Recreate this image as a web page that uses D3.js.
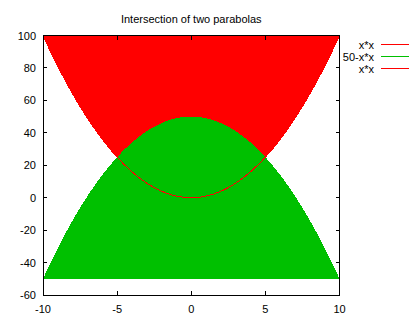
<!DOCTYPE html>
<html>
<head>
<meta charset="utf-8">
<script src="https://cdn.jsdelivr.net/npm/d3@7"></script>
<style>
  body { margin: 0; background: #fff; }
  text { font-family: "Liberation Sans", Arial, sans-serif; font-size: 11px; fill: #000; }
  path, line, rect { shape-rendering: crispEdges; }
</style>
</head>
<body>
<svg></svg>
<script>
const width = 420;
const height = 320;

// sample points
const xs = [-10, -9.5, -9, -8.5, -8, -7.5, -7, -6.5, -6, -5.5, -5, -4.5, -4, -3.5, -3, -2.5, -2, -1.5, -1, -0.5,
  0, 0.5, 1, 1.5, 2, 2.5, 3, 3.5, 4, 4.5, 5, 5.5, 6, 6.5, 7, 7.5, 8, 8.5, 9, 9.5, 10];
const squares = [100, 90.25, 81, 72.25, 64, 56.25, 49, 42.25, 36, 30.25, 25, 20.25, 16, 12.25, 9, 6.25, 4, 2.25, 1, 0.25,
  0, 0.25, 1, 2.25, 4, 6.25, 9, 12.25, 16, 20.25, 25, 30.25, 36, 42.25, 49, 56.25, 64, 72.25, 81, 90.25, 100];
const invSquares = [-50, -40.25, -31, -22.25, -14, -6.25, 1, 7.75, 14, 19.75, 25, 29.75, 34, 37.75, 41, 43.75, 46, 47.75, 49, 49.75,
  50, 49.75, 49, 47.75, 46, 43.75, 41, 37.75, 34, 29.75, 25, 19.75, 14, 7.75, 1, -6.25, -14, -22.25, -31, -40.25, -50];

const xTicks = [-10, -5, 0, 5, 10];
const yTicks = [-60, -40, -20, 0, 20, 40, 60, 80, 100];
const legendLabels = ["x*x", "50-x*x", "x*x"];
const legendColors = ["#ff0000", "#00c000", "#ff0000"];

const svg = d3.select("svg").attr("width", width).attr("height", height);

const plotLeft = 43, plotRight = 339.5, plotTop = 35.5, plotBottom = 295;

const x = d3.scaleLinear().domain([-10, 10]).range([plotLeft, plotRight]);
const y = d3.scaleLinear().domain([-60, 100]).range([plotBottom, plotTop]);

const sq = xs.map((v, i) => [v, squares[i]]);
const inv = xs.map((v, i) => [v, invSquares[i]]);

// filledcurves closed: curve joined back to its first point
const line = d3.line().x(d => x(d[0])).y(d => y(d[1])).curve(d3.curveMonotoneX);

svg.append("path")
    .attr("d", line(sq) + "Z")
    .attr("fill", "#ff0000");

svg.append("path")
    .attr("d", line(inv) + "Z")
    .attr("fill", "#00c000");

svg.append("path")
    .attr("d", line(sq))
    .attr("fill", "none")
    .attr("stroke", "#ff0000")
    .attr("stroke-width", 1);

// frame
svg.append("rect")
    .attr("x", plotLeft).attr("y", plotTop)
    .attr("width", plotRight - plotLeft).attr("height", plotBottom - plotTop)
    .attr("fill", "none").attr("stroke", "#000").attr("stroke-width", 1);

// ticks on all four sides, pointing inward
const tickLen = 4;
const axisG = svg.append("g").attr("stroke", "#000").attr("stroke-width", 1);
xTicks.forEach(t => {
  axisG.append("line").attr("x1", x(t)).attr("x2", x(t)).attr("y1", plotBottom).attr("y2", plotBottom - tickLen);
  axisG.append("line").attr("x1", x(t)).attr("x2", x(t)).attr("y1", plotTop).attr("y2", plotTop + tickLen);
});
yTicks.forEach(t => {
  axisG.append("line").attr("x1", plotLeft).attr("x2", plotLeft + tickLen).attr("y1", y(t)).attr("y2", y(t));
  axisG.append("line").attr("x1", plotRight).attr("x2", plotRight - tickLen).attr("y1", y(t)).attr("y2", y(t));
});

svg.selectAll(".xlab")
  .data(xTicks)
  .enter().append("text")
    .attr("x", d => x(d))
    .attr("y", plotBottom + 18)
    .attr("text-anchor", "middle")
    .text(d => d);

svg.selectAll(".ylab")
  .data(yTicks)
  .enter().append("text")
    .attr("x", plotLeft - 7)
    .attr("y", d => y(d) + 4)
    .attr("text-anchor", "end")
    .text(d => d);

svg.append("text")
    .attr("x", (plotLeft + plotRight) / 2)
    .attr("y", 23)
    .attr("text-anchor", "middle")
    .text("Intersection of two parabolas");

// legend
const legend = svg.selectAll(".legend")
  .data(legendLabels)
  .enter().append("g")
    .attr("transform", (d, i) => `translate(0, ${44.5 + i * 12})`);

legend.append("text")
    .attr("x", 374)
    .attr("y", 4)
    .attr("text-anchor", "end")
    .text(d => d);

legend.append("line")
    .attr("x1", 381).attr("x2", 409)
    .attr("y1", 0).attr("y2", 0)
    .attr("stroke", (d, i) => legendColors[i])
    .attr("stroke-width", 1);
</script>
</body>
</html>
